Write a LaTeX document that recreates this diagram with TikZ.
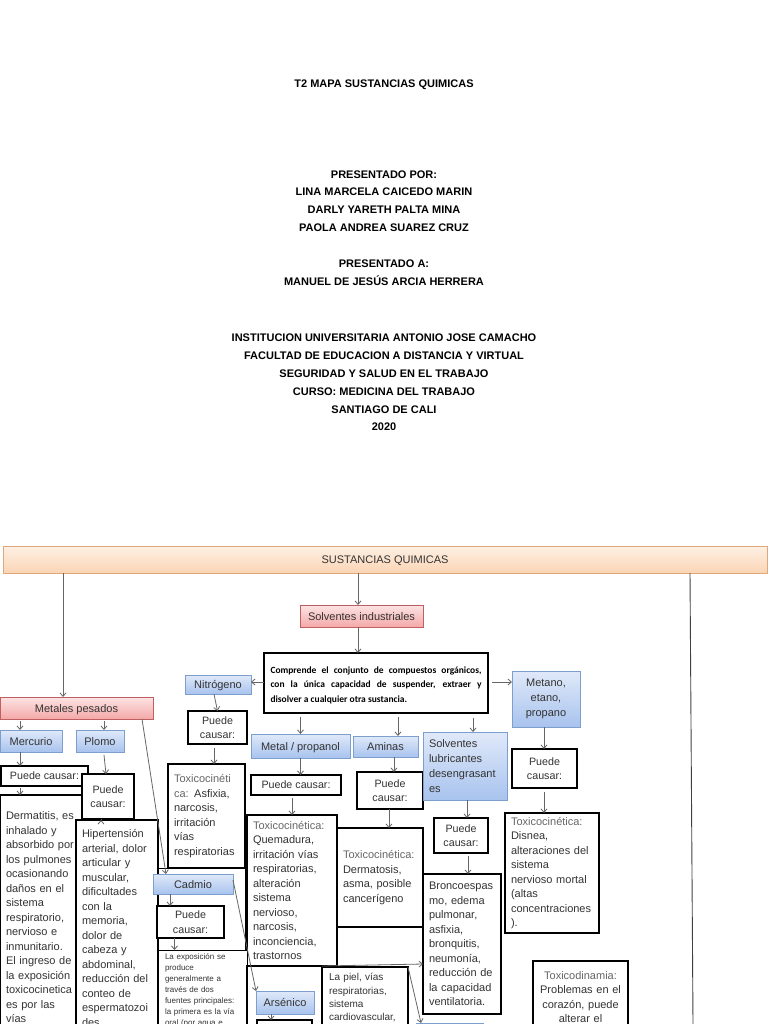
\documentclass[tikz,border=0pt]{standalone}
\usepackage{fontspec}
\setmainfont{Liberation Sans}
\newfontfamily\cuerpofont{Carlito}
\usetikzlibrary{arrows.meta,positioning,calc,shadows}
\definecolor{textoGris}{HTML}{333333}
\definecolor{tituloGris}{HTML}{666666}
\definecolor{azulClaro}{HTML}{E0E9F9}
\definecolor{azulFuerte}{HTML}{A8C3EE}
\definecolor{azulBorde}{HTML}{7C9FCE}
\definecolor{rojoClaro}{HTML}{FCE4E4}
\definecolor{rojoFuerte}{HTML}{F4A8A8}
\definecolor{rojoBorde}{HTML}{BF5F5F}
\definecolor{naranjaClaro}{HTML}{FDF0E4}
\definecolor{naranjaFuerte}{HTML}{FBD5B5}
\definecolor{naranjaBorde}{HTML}{E0A878}
\begin{document}
\begin{tikzpicture}[
    x=1pt, y=-1pt,
    % Stili per le caselle colorate
    colorbox/.style={rectangle, outer sep=0pt, inner sep=0pt, align=center, text=textoGris,
        font=\fontsize{11}{15}\selectfont,
        drop shadow={shadow xshift=0.3pt, shadow yshift=-1.2pt, fill=black!35, opacity=0.5}},
    oneline/.style={text height=10pt, text depth=1.5pt},
    banner/.style={colorbox, oneline, draw=naranjaBorde, top color=naranjaClaro, bottom color=naranjaFuerte, line width=0.9pt},
    redbox/.style={colorbox, oneline, draw=rojoBorde, top color=rojoClaro, bottom color=rojoFuerte, line width=0.9pt},
    bluebox/.style={colorbox, draw=azulBorde, top color=azulClaro, bottom color=azulFuerte, line width=0.9pt},
    % Stili per le caselle di testo
    causebox/.style={rectangle, draw=black, line width=1.6pt, fill=white, outer sep=0pt, inner sep=0pt,
        align=center, text=textoGris, font=\fontsize{10.7}{14.6}\selectfont},
    textbox/.style={rectangle, draw=black, line width=1.3pt, fill=white, outer sep=0pt, inner xsep=6pt, inner ysep=0pt,
        align=left, text=textoGris, font=\fontsize{11}{14.5}\selectfont},
    % Stili per le connessioni
    flow/.style={-{Straight Barb[length=3.5pt,width=6pt]}, line width=0.8pt, draw=black!60},
    % Stili per il testo
    headtext/.style={inner sep=0pt, align=center, font=\fontsize{11}{17.85}\selectfont\bfseries}
]
\clip (0,0) rectangle (768,1024);
\useasboundingbox (0,0) rectangle (768,1024);

% === PORTADA ===
\node[headtext] (titulo) at (384,85) {T2 MAPA SUSTANCIAS QUIMICAS};
\node[headtext] (autores) at (384,201) {PRESENTADO POR:\\LINA MARCELA CAICEDO MARIN\\DARLY YARETH PALTA MINA\\PAOLA ANDREA SUAREZ CRUZ};
\node[headtext] (docente) at (384,273) {PRESENTADO A:\\MANUEL DE JESÚS ARCIA HERRERA};
\node[headtext] (institucion) at (384,382.5) {INSTITUCION UNIVERSITARIA ANTONIO JOSE CAMACHO\\FACULTAD DE EDUCACION A DISTANCIA Y VIRTUAL\\SEGURIDAD Y SALUD EN EL TRABAJO\\CURSO: MEDICINA DEL TRABAJO\\SANTIAGO DE CALI\\2020};

% === RAIZ ===
\node[banner, minimum width=764pt, minimum height=27pt] (raiz) at (385,559.5) {SUSTANCIAS QUIMICAS};

% === SOLVENTES INDUSTRIALES ===
\node[redbox, minimum width=123pt, minimum height=22pt] (solventes) at (361.5,616) {Solventes industriales};
\node[causebox, text=black, align=justify, text width=211pt, minimum height=60pt, inner xsep=6.5pt,
    font=\cuerpofont\fontsize{9.5}{14.5}\selectfont\bfseries] (comprende) at (376,683)
    {\rule{0pt}{11pt}Comprende el conjunto de compuestos orgánicos, con la única capacidad de suspender, extraer y\linebreak disolver a cualquier otra sustancia.};

% Nitrogeno
\node[bluebox, oneline, minimum width=66pt, minimum height=19pt] (nitrogeno) at (218,684.5) {Nitrógeno};
\node[causebox, minimum width=59pt, minimum height=33pt] (causaN) at (217.5,727.5) {Puede\\causar:};
\node[textbox, text width=65pt, minimum height=104pt] (toxN) at (206.5,816)
    {\textcolor{tituloGris}{Toxicocinéti}\\\textcolor{tituloGris}{ca:} Asfixia,\\narcosis,\\irritación\\vías\\respiratorias};

% Metal / propanol
\node[bluebox, oneline, minimum width=99pt, minimum height=24pt] (metal) at (300.5,746) {Metal / propanol};
\node[causebox, minimum width=90pt, minimum height=20pt] (causaM) at (296,785) {Puede causar:};
\node[textbox, text width=78pt, minimum height=151pt] (toxM) at (292,890.5)
    {\textcolor{tituloGris}{Toxicocinética:}\\Quemadura,\\irritación vías\\respiratorias,\\alteración\\sistema\\nervioso,\\narcosis,\\inconciencia,\\trastornos};

% Aminas
\node[bluebox, oneline, minimum width=65pt, minimum height=21pt] (aminas) at (385.5,746.5) {Aminas};
\node[causebox, minimum width=66pt, minimum height=37pt] (causaA) at (390,790.5) {Puede\\causar:};
\node[textbox, text width=74pt, minimum height=99pt] (toxA) at (380,877.5)
    {\textcolor{tituloGris}{Toxicocinética:}\\Dermatosis,\\\makebox[72pt][s]{asma, posible}\\cancerígeno};

% Solventes lubricantes
\node[bluebox, align=left, text width=72pt, inner xsep=6pt, minimum height=68pt] (lubricantes) at (465,766) {Solventes\\lubricantes\\desengrasant\\es};
\node[causebox, minimum width=54pt, minimum height=35pt] (causaL) at (461,835.5) {Puede\\causar:};
\node[textbox, text width=66pt, minimum height=140pt] (bronco) at (462,944)
    {Broncoespas\\mo, edema\\pulmonar,\\asfixia,\\bronquitis,\\neumonía,\\reducción de\\la capacidad\\ventilatoria.};

% Metano
\node[bluebox, minimum width=68pt, minimum height=56pt] (metano) at (546,699) {Metano,\\etano,\\propano};
\node[causebox, minimum width=65pt, minimum height=39pt] (causaE) at (544.5,768.5) {Puede\\causar:};
\node[textbox, text width=82pt, minimum height=120pt] (toxE) at (552,873)
    {\textcolor{tituloGris}{Toxicocinética:}\\Disnea,\\alteraciones del\\sistema\\nervioso mortal\\(altas\\concentraciones\\).};
\node[textbox, anchor=north west, align=center, text width=83pt, inner ysep=10.5pt] (dinamia) at (533,961)
    {\textcolor{tituloGris}{Toxicodinamia:}\\Problemas en el\\corazón, puede\\alterar el};

% === METALES PESADOS ===
\node[redbox, minimum width=153pt, minimum height=22pt] (metales) at (76.5,708) {Metales pesados};
\node[bluebox, oneline, minimum width=62pt, minimum height=22pt] (mercurio) at (31,741) {Mercurio};
\node[bluebox, oneline, minimum width=48pt, minimum height=22pt] (plomo) at (100,741) {Plomo};

\node[textbox, anchor=north west, text width=70pt, inner ysep=17pt] (dermatitis) at (0,795)
    {Dermatitis, es\\inhalado y\\absorbido por\\los pulmones\\ocasionando\\daños en el\\sistema\\respiratorio,\\nervioso e\\inmunitario.\\El ingreso de\\la exposición\\toxicocinetica\\es por las\\vías};
\node[causebox, minimum width=87pt, minimum height=20pt] (causaHg) at (44.5,776) {Puede causar:};
\node[causebox, minimum width=52pt, minimum height=45pt] (causaPb) at (108,796.5) {Puede\\causar:};
\node[textbox, anchor=north west, text width=70pt, inner ysep=9.5pt] (hipertension) at (76,820)
    {Hipertensión\\arterial, dolor\\articular y\\muscular,\\dificultades\\con la\\memoria,\\dolor de\\cabeza y\\abdominal,\\reducción del\\conteo de\\espermatozoi\\des.};

% Cadmio
\node[draw=black, line width=0.8pt, minimum width=87pt, minimum height=82pt, inner sep=0pt, outer sep=0pt] (fondoCd) at (201.5,909) {};
\node[bluebox, oneline, minimum width=80pt, minimum height=20pt] (cadmio) at (193,884) {Cadmio};
\node[causebox, minimum width=67pt, minimum height=32pt] (causaCd) at (190.5,922) {Puede\\causar:};
\node[textbox, anchor=north west, text width=78pt, inner xsep=5.5pt, inner ysep=4pt, line width=0.8pt,
    font=\fontsize{8}{11}\selectfont] (exposicion) at (158,950)
    {\hspace{1.5pt}La exposición se\\\hspace{1.5pt}produce\\\hspace{1.5pt}generalmente a\\\hspace{1.5pt}través de dos\\\hspace{1.5pt}fuentes principales:\\\hspace{1.5pt}la primera es la vía\\\hspace{1.5pt}oral (por agua e};

% Arsenico
\node[draw=black, line width=1.3pt, anchor=north west, minimum width=75pt, minimum height=70pt, inner sep=0pt, outer sep=0pt] (fondoAs) at (247,966) {};
\node[bluebox, oneline, minimum width=58pt, minimum height=23pt] (arsenico) at (285,1002.5) {Arsénico};
\node[causebox, anchor=north west, minimum width=55pt, minimum height=20pt] (causaAs) at (257,1020) {};
\node[textbox, anchor=north west, text width=72pt, inner xsep=7pt, inner ysep=6.5pt, font=\fontsize{10}{13.3}\selectfont] (piel) at (322,967)
    {La piel, vías\\respiratorias,\\sistema\\cardiovascular,};
\node[bluebox, anchor=north west, minimum width=67pt, minimum height=20pt] (siguiente) at (416,1023) {};

% === CONNESSIONI ===
% Raiz
\draw[flow] ([xshift=-13.5pt]metales.north |- raiz.south) -- ([xshift=-13.5pt]metales.north);
\draw[flow] ([xshift=-3.5pt]solventes.north |- raiz.south) -- ([xshift=-3.5pt]solventes.north);
\draw[line width=0.9pt, draw=black!75] (raiz.south -| 690,0) -- (693,1024);

% Solventes
\draw[flow] ([xshift=-3.5pt]solventes.south) -- ([xshift=-18pt]comprende.north);
\draw[flow] ([yshift=2.5pt]comprende.west |- nitrogeno.east) -- ([yshift=2.5pt]nitrogeno.east);
\draw[flow] ([xshift=4pt,yshift=17pt]comprende.east |- metano.west) -- ([yshift=17pt]metano.west);
\draw[flow] ([yshift=-4pt]metal.north |- comprende.south) -- (metal.north);
\draw[flow] ([xshift=12.5pt,yshift=-4pt]aminas.north |- comprende.south) -- ([xshift=12.5pt]aminas.north);
\draw[flow] ([xshift=8pt,yshift=-5pt]lubricantes.north |- comprende.south) -- ([xshift=8pt]lubricantes.north);
\draw[flow] ([xshift=-4pt]nitrogeno.south) -- (causaN.north);
\draw[flow] ([yshift=-4pt,xshift=7.5pt]toxN.north |- causaN.south) -- ([xshift=7.5pt]toxN.north);
\draw[flow] (metal.south) -- ([xshift=4.5pt]causaM.north);
\draw[flow] ([yshift=-3pt]causaM.south -| toxM.north) -- (toxM.north);
\draw[flow] ([xshift=4pt]causaA.north |- aminas.south) -- ([xshift=4pt]causaA.north);
\draw[flow] ([xshift=-1pt]causaA.south) -- ([xshift=9pt]toxA.north);
\draw[flow] ([xshift=2pt]lubricantes.south) -- ([xshift=6pt]causaL.north);
\draw[flow] ([xshift=7pt,yshift=-3pt]causaL.south) -- ([xshift=6pt]bronco.north);
\draw[flow] ([xshift=-2pt]metano.south) -- ([xshift=-0.5pt]causaE.north);
\draw[flow] ([xshift=-0.5pt,yshift=-4pt]causaE.south) -- ([xshift=-8pt]toxE.north);

% Metales
\draw[flow] ([xshift=20pt,yshift=-2pt]metales.south west) -- ([xshift=-11pt]mercurio.north);
\draw[flow] ([xshift=104pt,yshift=-2pt]metales.south west) -- ([xshift=4pt]plomo.north);
\draw[flow] ([xshift=-11pt]mercurio.south) -- ([xshift=-24.5pt]causaHg.north);
\draw[flow] ([xshift=4pt,yshift=-3pt]plomo.south) -- ([xshift=-2pt]causaPb.north);
\draw[flow] ([xshift=-24.5pt,yshift=-2pt]causaHg.south) -- ([xshift=-21pt]dermatitis.north);
\draw[flow] ([xshift=-7pt,yshift=-1pt]causaPb.south) -- ([xshift=-16pt]hipertension.north);
\draw[flow] ([xshift=142pt]metales.south west) -- ([xshift=-27pt]cadmio.north);
\draw[flow] ([xshift=-23pt]cadmio.south) -- ([xshift=-20.5pt]causaCd.north);
\draw[flow] ([xshift=-16pt]causaCd.south) -- ([xshift=-28pt]exposicion.north);
\draw[flow] ([yshift=4pt]cadmio.east) -- (arsenico.north west);
\draw[flow] ([xshift=-14pt]arsenico.south) -- ([xshift=-13.5pt]causaAs.north);
\draw[flow] (fondoAs.north east) -- ([yshift=2pt]bronco.west |- fondoAs.north);
\draw[flow] (piel.north east) -- ([xshift=5pt]siguiente.north west);

\end{tikzpicture}
\end{document}
